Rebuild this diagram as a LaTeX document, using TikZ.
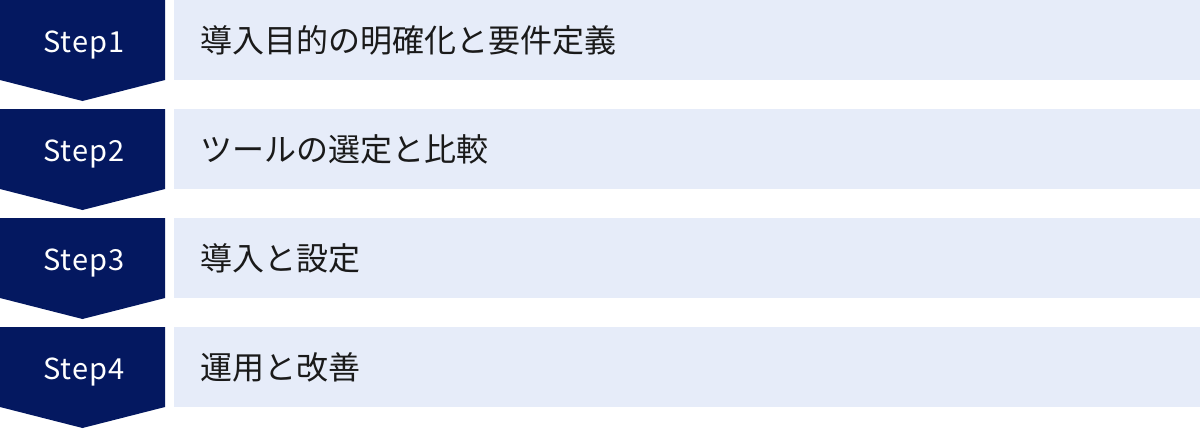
\documentclass[tikz,border=0pt]{standalone}
\usepackage{fontspec}
\setmainfont{Noto Sans CJK JP}
\newfontfamily\steplabelfont[LetterSpace=4]{Noto Sans CJK JP}
\definecolor{stepnavy}{RGB}{4,24,96}
\definecolor{rowblue}{RGB}{230,236,249}
\definecolor{rowtext}{RGB}{26,26,26}
\tikzset{
  steplabel/.style={anchor=base, inner sep=0pt, text=white, font=\steplabelfont\fontsize{29}{34}\selectfont},
  rowlabel/.style={anchor=base west, inner sep=0pt, text=rowtext, font=\fontsize{32}{38}\selectfont},
}

\begin{document}
\begin{tikzpicture}[x=1pt,y=1pt]
\useasboundingbox (0,0) rectangle (1200,-429);

\fill[rowblue] (174,0) rectangle (1200,-80);
\fill[rowblue] (174,-109) rectangle (1200,-189);
\fill[rowblue] (174,-218) rectangle (1200,-298);
\fill[rowblue] (174,-327) rectangle (1200,-407);

\fill[stepnavy] (0,0) -- (165,0) -- (165,-80) -- (82.5,-101) -- (0,-80) -- cycle;
\fill[stepnavy] (0,-109) -- (165,-109) -- (165,-189) -- (82.5,-210) -- (0,-189) -- cycle;
\fill[stepnavy] (0,-218) -- (165,-218) -- (165,-298) -- (82.5,-319) -- (0,-298) -- cycle;
\fill[stepnavy] (0,-327) -- (165,-327) -- (165,-407) -- (82.5,-428) -- (0,-407) -- cycle;

\node[steplabel] (step1) at (84,-52) {Step1};
\node[steplabel] (step2) at (84,-161) {Step2};
\node[steplabel] (step3) at (84,-270) {Step3};
\node[steplabel] (step4) at (84,-379) {Step4};

\node[rowlabel] (goal) at (200,-52) {導入目的の明確化と要件定義};
\node[rowlabel] (tool) at (200,-161) {ツールの選定と比較};
\node[rowlabel] (setup) at (200,-270) {導入と設定};
\node[rowlabel] (operate) at (200,-379) {運用と改善};
\end{tikzpicture}
\end{document}
